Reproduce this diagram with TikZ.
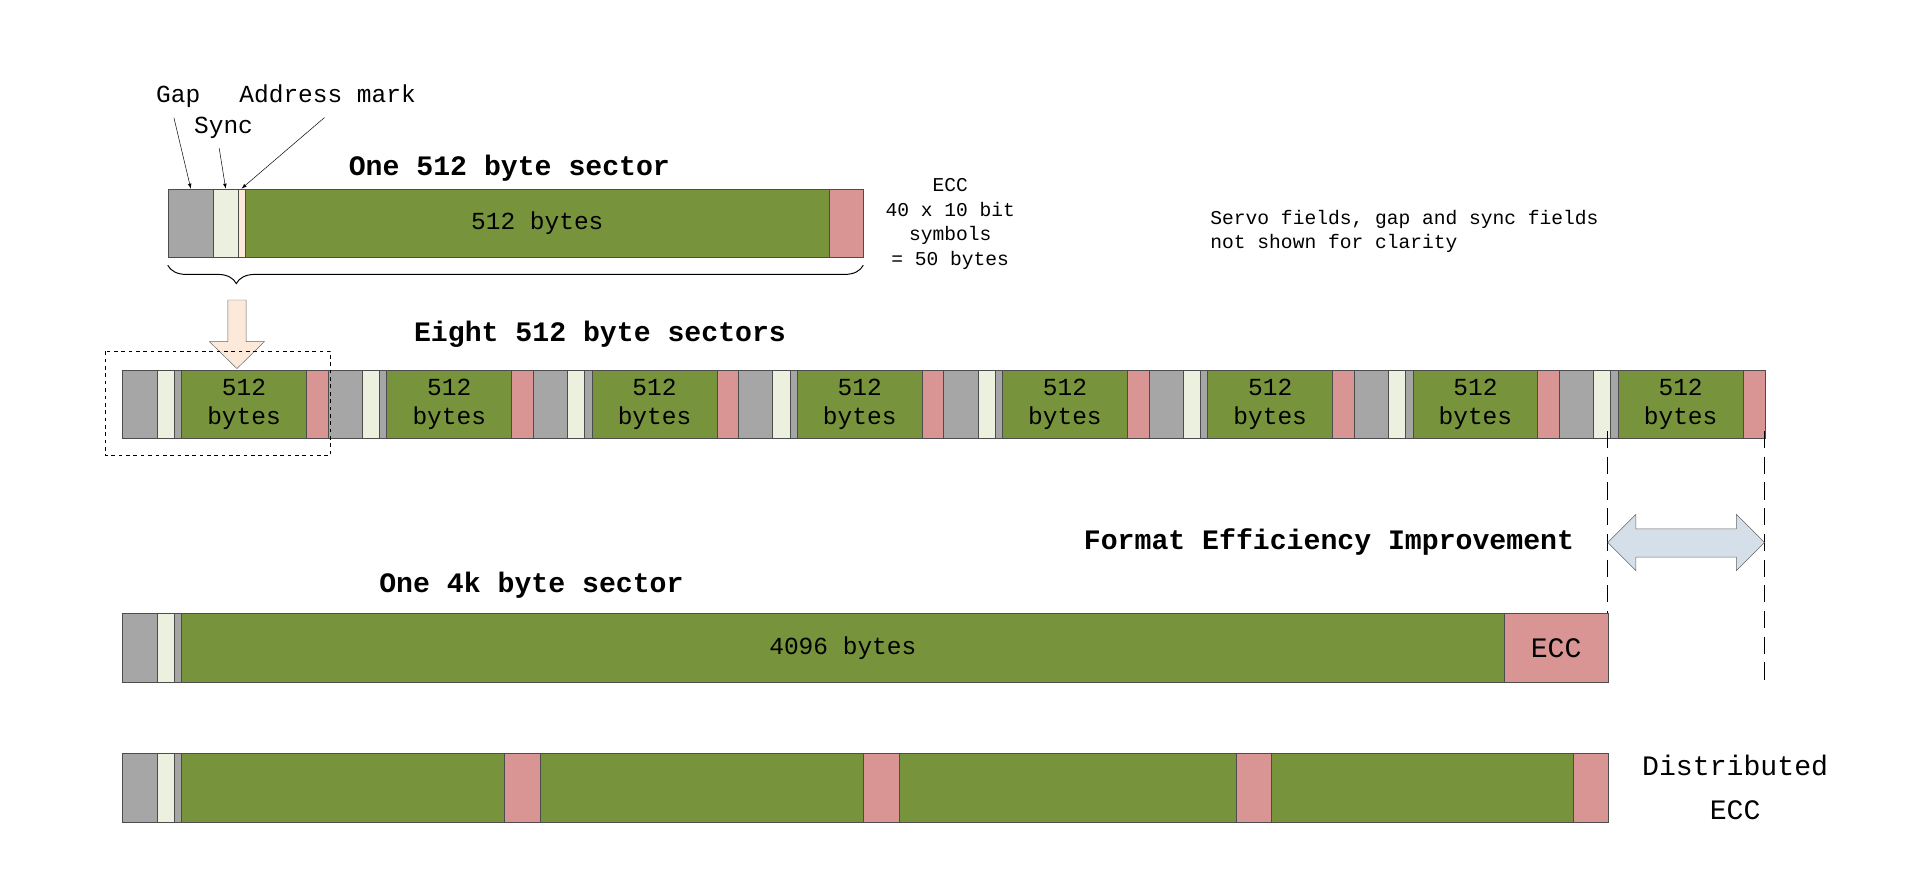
\documentclass[tikz,border=0pt]{standalone}
\usepackage{fontspec}
\setmonofont{Liberation Mono}
\usetikzlibrary{decorations.pathreplacing}
\definecolor{gapgray}{HTML}{A6A6A6}
\definecolor{syncgreen}{HTML}{EBF1DE}
\definecolor{addrpink}{HTML}{FDE9D9}
\definecolor{datagreen}{HTML}{77933C}
\definecolor{eccred}{HTML}{D99594}
\definecolor{arrowblue}{HTML}{D5DFEA}
\tikzset{
  blk/.style={draw=black!70,line width=0.6pt,anchor=north west,inner sep=0pt,minimum height=56pt},
  gap/.style={blk,fill=gapgray},
  sync/.style={blk,fill=syncgreen},
  addr/.style={blk,fill=addrpink},
  data/.style={blk,fill=datagreen},
  ecc/.style={blk,fill=eccred},
  txt/.style={font=\ttfamily\fontsize{20}{24}\selectfont},
  small/.style={font=\ttfamily\fontsize{16}{20}\selectfont},
  title/.style={font=\ttfamily\bfseries\fontsize{23}{28}\selectfont},
  big/.style={font=\ttfamily\fontsize{23}{36}\selectfont},
}
\begin{document}
\begin{tikzpicture}[x=1pt,y=-1pt,>=latex]
   \useasboundingbox (0,0) rectangle (1568,730);

   % one 512 byte sector
   \node[gap,minimum width=37pt] (g0) at (137,154) {};
   \node[sync,minimum width=20pt] (s0) at (174,154) {};
   \node[addr,minimum width=6pt] (a0) at (194,154) {};
   \node[data,minimum width=477pt,txt] (d0) at (200,154) {512 bytes};
   \node[ecc,minimum width=28pt] (e0) at (677,154) {};
   \node[title] (t0) at (416,137) {One 512 byte sector};
   \node[txt,anchor=base west] (lgap) at (124,84) {Gap};
   \node[txt,anchor=base west] (lsync) at (155,109) {Sync};
   \node[txt,anchor=base west] (laddr) at (192,84) {Address mark};
   \coordinate (pgap) at (142,96);
   \coordinate (psync) at (179,121);
   \coordinate (paddr) at (265,96);
   \draw[->,thin] (pgap) -- (g0.north);
   \draw[->,thin] (psync) -- (s0.north);
   \draw[->,thin] (paddr) -- (a0.north);
   \node[small,align=center] (eccnote) at (776,183) {ECC\\40 x 10 bit\\symbols\\= 50 bytes};
   \node[small,align=left,anchor=west] (servo) at (985,189) {Servo fields, gap and sync fields\\not shown for clarity};

   % brace and arrow
   \draw[thick,decorate,decoration={brace,mirror,amplitude=15pt,aspect=0.0986}]
     (g0.south west) ++(0,6) -- ++(568,0);
   \draw[fill=addrpink,draw=black!60] (186,245) -- (201,245) -- (201,279) -- (216,279)
     -- (193.5,301) -- (171,279) -- (186,279) -- cycle;

   % eight 512 byte sectors
   \node[title] (t1) at (490,273) {Eight 512 byte sectors};
   \foreach \i in {0,...,7} {
     \pgfmathsetmacro{\xo}{100+167.6*\i}
     \node[gap,minimum width=28pt] (g\i) at (\xo,302) {};
     \node[sync,minimum width=14pt] (s\i) at (\xo+28,302) {};
     \node[gap,minimum width=6pt] (a\i) at (\xo+42,302) {};
     \node[data,minimum width=102pt,txt,align=center] (d\i) at (\xo+48,302) {512\\bytes};
     \node[ecc,minimum width=18pt] (e\i) at (\xo+150,302) {};
   }
   \draw[dashed,thick] (86,287) rectangle (270,372);

   % format efficiency
   \coordinate (v1t) at (1313,352);
   \coordinate (v1b) at (1313,525);
   \coordinate (v2t) at (1441,352);
   \coordinate (v2b) at (1441,558);
   \draw[dashed,thick,dash pattern=on 14pt off 7pt] (v1t) -- (v1b);
   \draw[dashed,thick,dash pattern=on 14pt off 7pt] (v2t) -- (v2b);
   \draw[fill=arrowblue,draw=black!60] (1313,443) -- (1336,420) -- (1336,432) -- (1418,432)
     -- (1418,420) -- (1441,443) -- (1418,466) -- (1418,455) -- (1336,455) -- (1336,466) -- cycle;
   \node[title,anchor=east] (fmt) at (1289,443) {Format Efficiency Improvement};

   % one 4k byte sector
   \node[title] (t2) at (434,478) {One 4k byte sector};
   \node[gap,minimum width=28pt] (g4k) at (100,501) {};
   \node[sync,minimum width=14pt] (s4k) at (128,501) {};
   \node[gap,minimum width=6pt] (a4k) at (142,501) {};
   \node[data,minimum width=1080pt,txt] (d4k) at (148,501) {4096 bytes};
   \node[ecc,minimum width=85pt,big] (e4k) at (1228,501) {ECC};

   % distributed ecc
   \node[gap,minimum width=28pt] (gd) at (100,615) {};
   \node[sync,minimum width=14pt] (sd) at (128,615) {};
   \node[gap,minimum width=6pt] (ad) at (142,615) {};
   \node[data,minimum width=264pt] (dd1) at (148,615) {};
   \node[ecc,minimum width=29pt] (ed1) at (412,615) {};
   \node[data,minimum width=264pt] (dd2) at (441,615) {};
   \node[ecc,minimum width=29pt] (ed2) at (705,615) {};
   \node[data,minimum width=275pt] (dd3) at (734,615) {};
   \node[ecc,minimum width=29pt] (ed3) at (1009,615) {};
   \node[data,minimum width=247pt] (dd4) at (1038,615) {};
   \node[ecc,minimum width=28pt] (ed4) at (1285,615) {};
   \node[big,align=center] (dist) at (1417,643) {Distributed\\ECC};
\end{tikzpicture}
\end{document}
